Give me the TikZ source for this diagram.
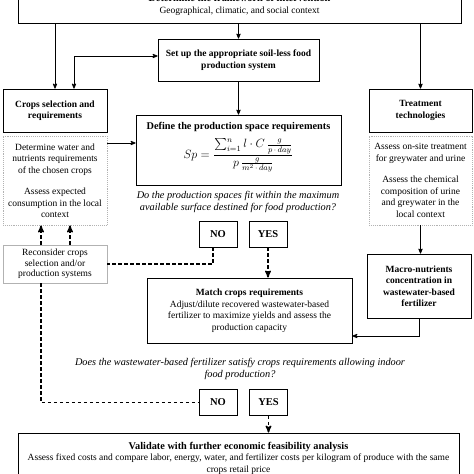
\documentclass[tikz,border=0pt]{standalone}
\usepackage{amsmath}
\usepackage{fontspec}
\setmainfont{Liberation Serif}
\usetikzlibrary{arrows,positioning}
\newcommand{\newStep}[4]{\node[#3](#1) at #4 {#2};}
\newcommand{\bigTitle}[1]{{\fontsize{10.3}{12}\selectfont\bfseries #1}}

\begin{document}
\begin{tikzpicture}[
    % Default arrow tip
    >=stealth',
    % Coordinates in points, y growing downward
    x=1pt,y=-1pt,
    % Boxes
    box/.style={draw,line width=0.8pt,align=center,inner sep=2pt,
      font=\fontsize{9.5}{11.5}\selectfont},
    note/.style={box,draw=gray!60,line width=0.9pt,densely dotted},
    soft/.style={box,draw=gray!60,line width=0.9pt},
    answer/.style={box,font=\fontsize{10.5}{12}\selectfont\bfseries,
      minimum width=38pt,minimum height=26pt},
    ask/.style={align=center,font=\fontsize{10.3}{12.5}\selectfont\itshape},
    % Connectors
    link/.style={->,line width=0.8pt},
    dlink/.style={line width=1.4pt,dash pattern=on 3.5pt off 2.5pt}
    ]
    \useasboundingbox (0,0) rectangle (474,474);

    \newStep{frame}{\bigTitle{Determine the framework of intervention}\\
      Geographical, climatic, and social context}{box,minimum width=443pt,minimum height=36pt}{(239.5,5)}
    \newStep{setup}{\bfseries Set up the appropriate soil-less food\\
      \bfseries production system}{box,minimum width=161pt,minimum height=42pt}{(238.5,60)}
    \newStep{crops}{\bfseries Crops selection and\\
      \bfseries requirements}{box,minimum width=104pt,minimum height=43pt}{(55,110.5)}
    \newStep{cropsreq}{Determine water and\\nutrients requirements\\of the chosen crops\\[10pt]
      Assess expected\\consumption in the local\\context}{note,minimum width=104pt,minimum height=89pt}{(55,180.5)}
    \newStep{define}{}{box,minimum width=205pt,minimum height=70pt}{(238.5,150)}
    \node[below=6pt of define.north,inner sep=1pt] (definetitle) {\bigTitle{Define the production space requirements}};
    \node[below=5pt of definetitle,inner sep=1pt,font=\fontsize{12}{14}\selectfont] (formula)
      {$\displaystyle Sp=\frac{\sum_{i=1}^{n} l\cdot C\,\frac{g}{p\,\cdot\, day}}{p\,\frac{g}{m^{2}\,\cdot\, day}}$};
    \newStep{ask1}{Do the production spaces fit within the maximum\\
      available surface destined for food production?}{ask}{(238,202)}
    \newStep{no1}{NO}{answer}{(218,234)}
    \newStep{yes1}{YES}{answer}{(268,234)}
    \newStep{recon}{Reconsider crops\\selection and/or\\production systems}{soft,minimum width=104pt,minimum height=38pt,
      font=\fontsize{9.5}{10.5}\selectfont}{(55,264)}
    \newStep{match}{\bfseries Match crops requirements\\Adjust/dilute recovered wastewater-based\\
      fertilizer to maximize yields and assess the\\production capacity}{box,minimum width=205pt,minimum height=65pt}{(249.5,310.5)}
    \newStep{treat}{\bfseries Treatment\\\bfseries technologies}{box,minimum width=103pt,minimum height=43pt}{(420.5,110.5)}
    \newStep{treatreq}{Assess on-site treatment\\for greywater and urine\\[10pt]
      Assess the chemical\\composition of urine\\and greywater in the\\local context}{note,minimum width=103pt,minimum height=89pt}{(420.5,180.5)}
    \newStep{macro}{\bfseries Macro-nutrients\\\bfseries concentration in\\\bfseries wastewater-based\\
      \bfseries fertilizer}{box,minimum width=104pt,minimum height=64pt}{(419,286)}
    \newStep{ask2}{Does the wastewater-based fertilizer satisfy crops requirements allowing indoor\\
      food production?}{ask}{(240,369)}
    \newStep{no2}{NO}{answer}{(218,402.5)}
    \newStep{yes2}{YES}{answer}{(268.5,402.5)}
    \newStep{valid}{\bigTitle{Validate with further economic feasibility analysis}\\
      Assess fixed costs and compare labor, energy, water, and fertilizer costs per kilogram of produce with the same\\
      crops retail price}{box,minimum width=441pt,minimum height=50pt}{(238.5,458)}

    % Solid connectors
    \draw[link] (frame.south -| crops.north) -- (crops.north);
    \draw[link] (frame.south -| setup.north) -- (setup.north);
    \draw[link] (frame.south -| treat.north) -- (treat.north);
    \draw[link,<->] ([xshift=19pt]crops.north) |- ([yshift=4pt]setup.west);
    \draw[link] (setup.south) -- (define.north);
    \draw[link] ([yshift=37.5pt]cropsreq.east) -- ([yshift=37.5pt]cropsreq.east -| define.west);
    \draw[link] (treatreq.south) -- (treatreq.south |- macro.north);
    \draw[link] (macro.south) |- ([yshift=-25.5pt]match.east);

    % Dashed connectors
    \draw[dlink] ([xshift=-5pt]no1.south) |- (recon.east);
    \draw[dlink,->] (yes1.south) -- (yes1.south |- match.north);
    \draw[dlink,->] ([xshift=-14pt]recon.north) -- ([xshift=-14pt]cropsreq.south);
    \draw[dlink,->] ([xshift=15pt]recon.north) -- ([xshift=15pt]cropsreq.south);
    \draw[dlink] ([xshift=-14pt]recon.south) |- (no2.west);
    \draw[dlink,->] (yes2.south) -- (yes2.south |- valid.north);
  \end{tikzpicture}
\end{document}
